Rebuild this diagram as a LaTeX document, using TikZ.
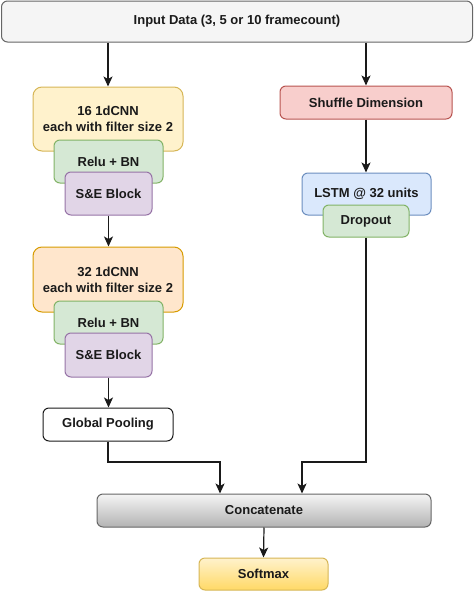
\documentclass[tikz,border=0pt]{standalone}
\usepackage{fontspec}
\setmainfont{Liberation Sans}
\usetikzlibrary{arrows.meta,shadings}
\definecolor{inF}{HTML}{F5F5F5}\definecolor{inD}{HTML}{666666}
\definecolor{yF}{HTML}{FFF2CC}\definecolor{yD}{HTML}{D6B656}
\definecolor{oF}{HTML}{FFE6CC}\definecolor{oD}{HTML}{D79B00}
\definecolor{gF}{HTML}{D5E8D4}\definecolor{gD}{HTML}{82B366}
\definecolor{pF}{HTML}{E1D5E7}\definecolor{pD}{HTML}{9673A6}
\definecolor{rF}{HTML}{F8CECC}\definecolor{rD}{HTML}{B85450}
\definecolor{bF}{HTML}{DAE8FC}\definecolor{bD}{HTML}{6C8EBF}
\definecolor{cB}{HTML}{B3B3B3}\definecolor{sB}{HTML}{FFD966}
\definecolor{ln}{HTML}{1A1A1A}
\tikzset{
  box/.style={draw, rounded corners=6pt, line width=1pt, inner sep=0pt, align=center,
    font=\bfseries\fontsize{13}{16}\selectfont, text=ln},
  conn/.style={draw=ln, line width=1.2pt, -{Stealth[length=10pt,width=9pt,inset=2.5pt]}}
}
\begin{document}
\begin{tikzpicture}[x=1pt,y=-1pt]
\useasboundingbox (0,0) rectangle (474,592);
\node[box, fill=inF, draw=inD, minimum width=471, minimum height=41] (in) at (237,21.5) {Input Data (3, 5 or 10 framecount)};
% left branch
\node[box, fill=yF, draw=yD, rounded corners=9pt, minimum width=150, minimum height=64] (cnn1) at (108,119) {16 1dCNN\\each with filter size 2};
\node[box, fill=gF, draw=gD, minimum width=109, minimum height=43] (relu1) at (108.5,161.5) {Relu + BN};
\node[box, fill=pF, draw=pD, minimum width=87, minimum height=43] (se1) at (108.5,193.5) {S\&E Block};
\node[box, fill=oF, draw=oD, rounded corners=9pt, minimum width=150, minimum height=65] (cnn2) at (108,279.5) {32 1dCNN\\each with filter size 2};
\node[box, fill=gF, draw=gD, minimum width=109, minimum height=43] (relu2) at (108.5,322.5) {Relu + BN};
\node[box, fill=pF, draw=pD, minimum width=87, minimum height=44] (se2) at (108.5,355) {S\&E Block};
\node[box, fill=white, draw=ln, minimum width=130, minimum height=33] (gp) at (108,424.5) {Global Pooling};
% right branch
\node[box, fill=rF, draw=rD, minimum width=172, minimum height=33] (sh) at (366,102.5) {Shuffle Dimension};
\node[box, fill=bF, draw=bD, minimum width=129, minimum height=42] (lstm) at (366.5,194) {LSTM @ 32 units};
\node[box, fill=gF, draw=gD, minimum width=86, minimum height=32] (drop) at (366,221) {Dropout};
% merge
\node[box, top color=inF, bottom color=cB, draw=inD, minimum width=334, minimum height=33] (cat) at (264,510.5) {Concatenate};
\node[box, top color=yF, bottom color=sB, draw=yD, minimum width=129, minimum height=32] (sm) at (263.5,574) {Softmax};
% connectors
\draw[conn] (cnn1.north |- in.south) -- (cnn1.north);
\draw[conn] (sh.north |- in.south) -- (sh.north);
\draw[conn] (se1.south) -- (se1.south |- cnn2.north);
\draw[conn] (se2.south) -- (se2.south |- gp.north);
\draw[conn] (sh.south) -- (sh.south |- lstm.north);
\coordinate (lk) at (220,462);
\coordinate (rk) at (302,462);
\draw[conn] (gp.south) |- (lk) -- (lk |- cat.north);
\draw[conn] (drop.south) |- (rk) -- (rk |- cat.north);
\draw[conn] (cat.south) -- (sm.north);
\end{tikzpicture}
\end{document}
